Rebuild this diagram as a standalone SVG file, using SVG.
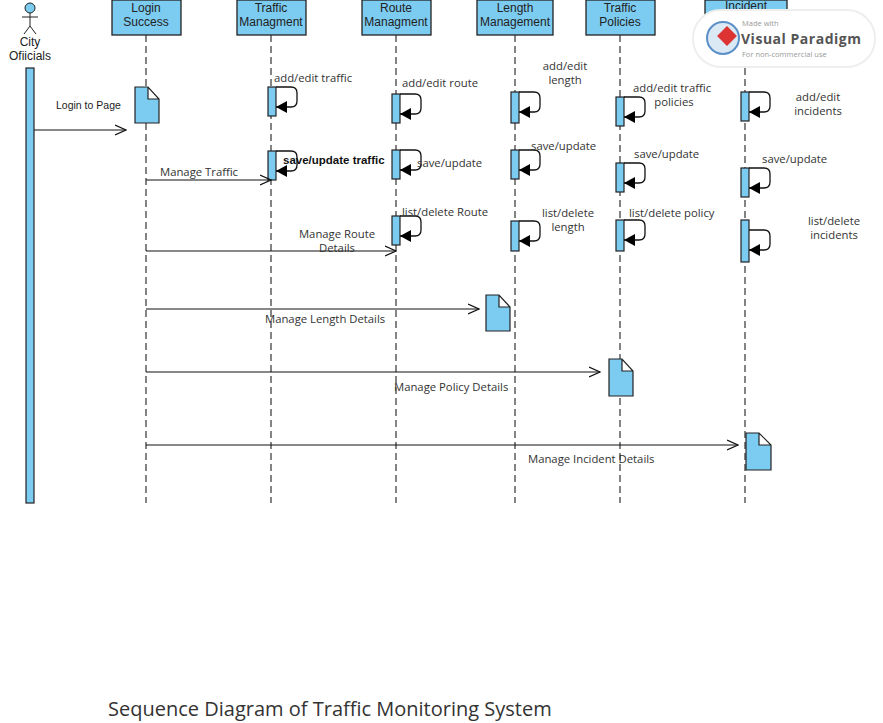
<svg xmlns="http://www.w3.org/2000/svg" width="883" height="723" viewBox="0 0 883 723">
<defs>
<style>
.hd{fill:#7ccbf1;stroke:#222;stroke-width:1.3}
.hdt{font-family:"Liberation Sans",Arial,sans-serif;font-size:12px;fill:#222;text-anchor:middle}
.ll{stroke:#333;stroke-width:1.2;stroke-dasharray:7,4;fill:none}
.act{fill:#7ccbf1;stroke:#222;stroke-width:1.2}
.lp{fill:none;stroke:#111;stroke-width:1.3}
.lbl{font-family:"Open Sans","Noto Sans",sans-serif;font-size:11.3px;fill:#333}
.msg{stroke:#111;stroke-width:1.2;fill:none}
.doc{fill:#7ccbf1;stroke:#222;stroke-width:1.2}
</style>
<marker id="fa" markerWidth="12" markerHeight="12" refX="11" refY="6" orient="auto" markerUnits="userSpaceOnUse"><path d="M0,0 L11,6 L0,12 Z" fill="#000"/></marker>
<marker id="oa" markerWidth="12" markerHeight="12" refX="11" refY="6" orient="auto" markerUnits="userSpaceOnUse"><path d="M0,1 L11,6 L0,11" fill="none" stroke="#111" stroke-width="1.2"/></marker>
<symbol id="self" overflow="visible"><path class="lp" d="M8,0 H23 Q29,0 29,6 V14 Q29,20 23,20 H8" marker-end="url(#fa)"/></symbol>
</defs>
<rect width="883" height="723" fill="#fff"/>

<g id="actor">
<circle cx="30" cy="8" r="5" fill="#7ccbf1" stroke="#222"/>
<path d="M30,13 V26 M22,17 H38 M30,26 L24,34 M30,26 L36,34" stroke="#222" fill="none"/>
<text class="hdt" x="30" y="46">City</text>
<text class="hdt" x="30" y="60">Ofiicials</text>
<rect class="act" x="26" y="68" width="8" height="435"/>
</g>

<g id="login">
<rect class="hd" x="112" y="0" width="69" height="35"/>
<text class="hdt" x="146" y="12">Login</text><text class="hdt" x="146" y="26">Success</text>
<line class="ll" x1="146" y1="35" x2="146" y2="503"/>
<path class="doc" d="M135,87 H148 L159,99 V123 H135 Z M148,87 V99 H159" />
</g>

<g id="traffic">
<rect class="hd" x="237" y="0" width="69" height="35"/>
<text class="hdt" x="271" y="12">Traffic</text><text class="hdt" x="271" y="26">Managment</text>
<line class="ll" x1="271" y1="35" x2="271" y2="503"/>
<rect class="act" x="268" y="87" width="8" height="29"/>
<use href="#self" x="268" y="87"/>
<rect class="act" x="268" y="151" width="8" height="29"/>
<use href="#self" x="268" y="151"/>
</g>

<g id="route">
<rect class="hd" x="362" y="0" width="69" height="35"/>
<text class="hdt" x="396" y="12">Route</text><text class="hdt" x="396" y="26">Managment</text>
<line class="ll" x1="396" y1="35" x2="396" y2="503"/>
<rect class="act" x="392" y="94" width="8" height="29"/><use href="#self" x="392" y="94"/>
<rect class="act" x="392" y="150" width="8" height="29"/><use href="#self" x="392" y="150"/>
<rect class="act" x="392" y="216" width="8" height="29"/><use href="#self" x="392" y="216"/>
</g>

<g id="length">
<rect class="hd" x="477" y="0" width="76" height="35"/>
<text class="hdt" x="515" y="12">Length</text><text class="hdt" x="515" y="26">Management</text>
<line class="ll" x1="515" y1="35" x2="515" y2="503"/>
<rect class="act" x="511" y="92" width="8" height="31"/><use href="#self" x="511" y="92"/>
<rect class="act" x="511" y="150" width="8" height="29"/><use href="#self" x="511" y="150"/>
<rect class="act" x="511" y="221" width="8" height="30"/><use href="#self" x="511" y="221"/>
<path class="doc" d="M486,295 H499 L510,307 V331 H486 Z M499,295 V307 H510"/>
</g>

<g id="policies">
<rect class="hd" x="586" y="0" width="69" height="35"/>
<text class="hdt" x="620" y="12">Traffic</text><text class="hdt" x="620" y="26">Policies</text>
<line class="ll" x1="620" y1="35" x2="620" y2="503"/>
<rect class="act" x="616" y="97" width="8" height="29"/><use href="#self" x="616" y="97"/>
<rect class="act" x="616" y="163" width="8" height="29"/><use href="#self" x="616" y="163"/>
<rect class="act" x="616" y="220" width="8" height="31"/><use href="#self" x="616" y="220"/>
<path class="doc" d="M609,359 H622 L633,371 V396 H609 Z M622,359 V371 H633"/>
</g>

<g id="incident">
<rect class="hd" x="705" y="0" width="82" height="35"/>
<text class="hdt" x="746" y="10">Incident</text>
<line class="ll" x1="745" y1="35" x2="745" y2="503"/>
<rect class="act" x="741" y="92" width="8" height="29"/><use href="#self" x="741" y="92"/>
<rect class="act" x="741" y="168" width="8" height="29"/><use href="#self" x="741" y="168"/>
<rect class="act" x="741" y="220" width="8" height="42"/><use href="#self" x="741" y="230"/>
<path class="doc" d="M746,433 H759 L771,445 V470 H746 Z M759,433 V445 H771"/>
</g>

<g id="connectors">
<line class="msg" x1="34" y1="130" x2="126" y2="130" marker-end="url(#oa)"/>
<line class="msg" x1="146" y1="180" x2="271" y2="180" marker-end="url(#oa)"/>
<line class="msg" x1="146" y1="251" x2="396" y2="251" marker-end="url(#oa)"/>
<line class="msg" x1="146" y1="309" x2="479" y2="309" marker-end="url(#oa)"/>
<line class="msg" x1="146" y1="372" x2="600" y2="372" marker-end="url(#oa)"/>
<line class="msg" x1="146" y1="445" x2="738" y2="445" marker-end="url(#oa)"/>
</g>

<g id="labels">
<text x="56" y="109" font-family="'Liberation Sans',Arial,sans-serif" font-size="10.5" fill="#222">Login to Page</text>
<text class="lbl" x="160" y="176">Manage Traffic</text>
<text class="lbl" x="337" y="238" text-anchor="middle">Manage Route</text>
<text class="lbl" x="337" y="252" text-anchor="middle">Details</text>
<text class="lbl" x="265" y="323">Manage Length Details</text>
<text class="lbl" x="394" y="391">Manage Policy Details</text>
<text class="lbl" x="528" y="463">Manage Incident Details</text>
<text class="lbl" x="274" y="82">add/edit traffic</text>
<text x="283" y="164" font-family="'Liberation Sans',Arial,sans-serif" font-size="11.5" font-weight="bold" fill="#111">save/update traffic</text>
<text class="lbl" x="402" y="87">add/edit route</text>
<text class="lbl" x="417" y="167">save/update</text>
<text class="lbl" x="402" y="216">list/delete Route</text>
<text class="lbl" x="565" y="70" text-anchor="middle">add/edit</text>
<text class="lbl" x="565" y="84" text-anchor="middle">length</text>
<text class="lbl" x="531" y="150">save/update</text>
<text class="lbl" x="568" y="217" text-anchor="middle">list/delete</text>
<text class="lbl" x="568" y="231" text-anchor="middle">length</text>
<text class="lbl" x="633" y="92">add/edit traffic</text>
<text class="lbl" x="674" y="106" text-anchor="middle">policies</text>
<text class="lbl" x="634" y="158">save/update</text>
<text class="lbl" x="629" y="217">list/delete policy</text>
<text class="lbl" x="818" y="101" text-anchor="middle">add/edit</text>
<text class="lbl" x="818" y="115" text-anchor="middle">incidents</text>
<text class="lbl" x="762" y="163">save/update</text>
<text class="lbl" x="834" y="225" text-anchor="middle">list/delete</text>
<text class="lbl" x="834" y="239" text-anchor="middle">incidents</text>
</g>

<g id="watermark">
<rect x="693" y="10" width="182" height="57" rx="28" fill="#fff" stroke="#eee" stroke-width="2"/>
<circle cx="723" cy="38" r="16" fill="#dbe9f5" stroke="#5b8fc7" stroke-width="2"/>
<rect x="720" y="29" width="14" height="14" fill="#d33" transform="rotate(45 727 36)"/>
<text x="742" y="26" font-family="'Open Sans',sans-serif" font-size="7.5" fill="#999">Made with</text>
<text x="741" y="44" font-family="'Open Sans',sans-serif" font-size="14" font-weight="bold" fill="#555" textLength="120">Visual Paradigm</text>
<text x="742" y="57" font-family="'Open Sans',sans-serif" font-size="7.5" fill="#999">For non-commercial use</text>
</g>

<text x="108" y="716" font-family="'Open Sans','Noto Sans',sans-serif" font-size="20" fill="#333">Sequence Diagram of Traffic Monitoring System</text>
</svg>
